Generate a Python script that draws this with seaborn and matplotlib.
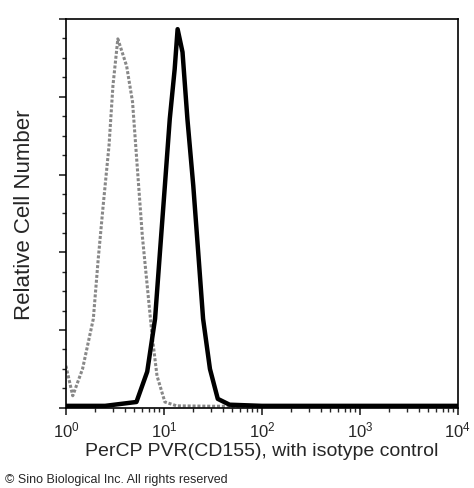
import numpy as np
import pandas as pd
import seaborn as sns
import matplotlib.pyplot as plt
from matplotlib.ticker import LogLocator, MultipleLocator, NullFormatter

# Values (log10 of intensity, % of max count)
iso_log = [0.0, 0.07, 0.17, 0.28, 0.33, 0.38, 0.44, 0.48, 0.53, 0.62, 0.68, 0.73,
           0.78, 0.83, 0.88, 0.93, 1.01, 1.13, 1.5, 2.5, 3.5, 4.0]
iso_cnt = [10.8, 3.1, 10.0, 22.9, 38.3, 51.9, 67.4, 82.8, 94.9, 87.9, 78.7, 61.4,
           44.2, 31.4, 18.5, 8.2, 1.5, 0.5, 0.4, 0.4, 0.4, 0.4]
pvr_log = [0.0, 0.4, 0.72, 0.83, 0.91, 0.96, 1.01, 1.06, 1.11, 1.14, 1.19, 1.24,
           1.30, 1.35, 1.40, 1.47, 1.55, 1.67, 2.0, 3.0, 4.0]
pvr_cnt = [0.5, 0.5, 1.5, 9.3, 22.9, 40.1, 57.1, 74.3, 87.1, 97.4, 91.5, 74.3,
           57.1, 40.1, 22.9, 10.0, 2.3, 0.8, 0.5, 0.5, 0.5]

iso = pd.DataFrame({'x': 10 ** np.array(iso_log), 'y': iso_cnt})
pvr = pd.DataFrame({'x': 10 ** np.array(pvr_log), 'y': pvr_cnt})

sns.set_style('white')
plt.rcParams['font.family'] = ['Liberation Sans', 'DejaVu Sans']

fig = plt.figure(figsize=(4.74, 4.89), dpi=100)
ax = fig.add_axes([0.139, 0.164, 0.827, 0.795])

sns.lineplot(data=iso, x='x', y='y', ax=ax, color='#888888', lw=2.2, linestyle=(0, (1, 0.6)))
sns.lineplot(data=pvr, x='x', y='y', ax=ax, color='black', lw=3.2)

ax.set_xscale('log')
ax.set_xlim(1, 1e4)
ax.set_ylim(0, 100)
ax.xaxis.set_major_locator(LogLocator(base=10, numticks=10))
ax.xaxis.set_minor_locator(LogLocator(base=10, subs=np.arange(2, 10), numticks=10))
ax.xaxis.set_minor_formatter(NullFormatter())
ax.yaxis.set_major_locator(MultipleLocator(20))
ax.yaxis.set_minor_locator(MultipleLocator(5))
ax.set_yticklabels([])
ax.tick_params(axis='both', which='major', direction='out', length=5, width=1.2,
               bottom=True, left=True, labelsize=12)
ax.tick_params(axis='both', which='minor', direction='out', length=3, width=1,
               bottom=True, left=True)
for s in ax.spines.values():
    s.set_color('black')
    s.set_linewidth(1.2)

ax.set_xlabel('PerCP PVR(CD155), with isotype control', fontsize=14, labelpad=2)
ax.set_ylabel('Relative Cell Number', fontsize=16, labelpad=14)
fig.text(0.01, 0.012, '© Sino Biological Inc. All rights reserved', fontsize=9)

plt.savefig('out.png', dpi=100)
